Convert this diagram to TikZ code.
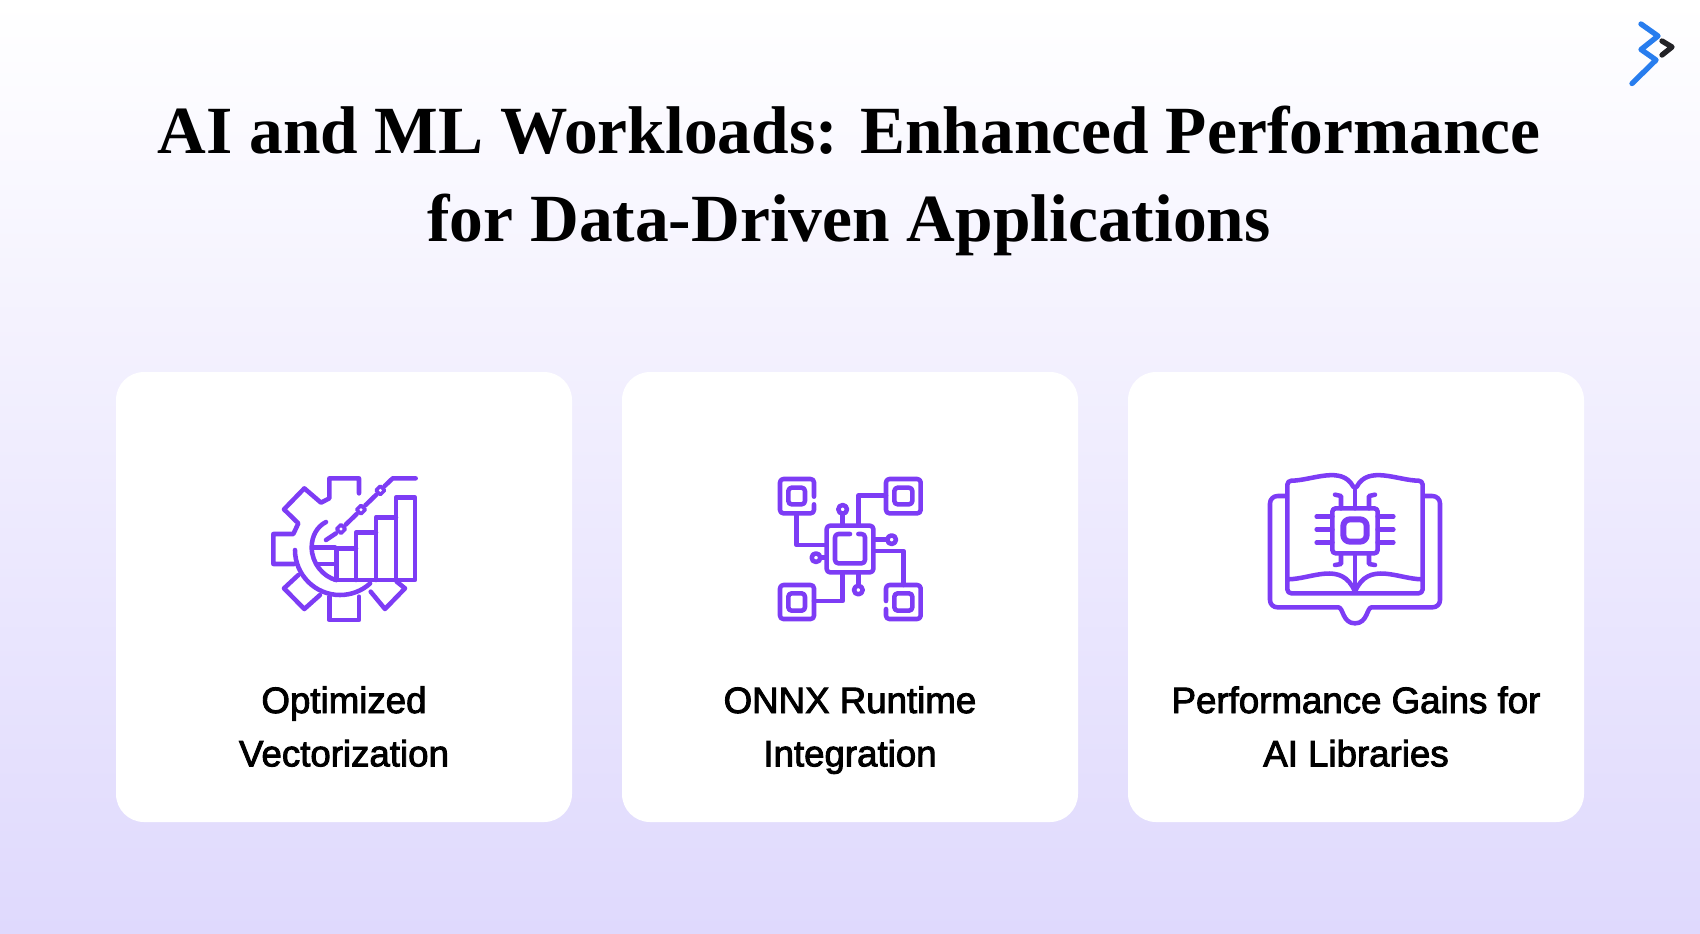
\documentclass[tikz,border=0pt]{standalone}
\usepackage{fontspec}
\setmainfont{Liberation Serif}
\newfontfamily\cardfont[FakeBold=2.5]{Liberation Sans}
\usetikzlibrary{calc,positioning}

\definecolor{bgbottom}{RGB}{223,217,253}
\definecolor{iconpurple}{RGB}{125,60,245}
\definecolor{logoblue}{RGB}{40,125,238}
\definecolor{logodark}{RGB}{34,34,38}

\tikzset{
	card/.style={fill=white,rounded corners=21pt,minimum width=342pt,minimum height=337.5pt,inner sep=0pt},
	cardlabel/.style={font=\cardfont\fontsize{27.5}{40}\selectfont,align=center,text=black,inner sep=0pt},
	icon/.style={draw=iconpurple,line width=3.4pt,line join=round,line cap=round},
	iconthin/.style={icon,rounded corners=2.5pt},
	icondot/.style={icon,line width=2.6pt},
	logoline/.style={line width=4pt,line cap=round,line join=round},
}

\begin{document}
\begin{tikzpicture}[x=0.75pt,y=0.75pt,yscale=-1,xscale=1]
	% background
	\fill [top color=white,bottom color=bgbottom] (0,0) rectangle (1700,933);
	\useasboundingbox (0,0) rectangle (1700,933);

	% Logo
	\draw [logoline,draw=logoblue] (1641,24) -- (1658,36) -- (1641,49.5) -- (1656,60) -- (1632,83.5);
	\draw [logoline,draw=logodark] (1662,41) -- (1672,47) -- (1662,55);

	% Text Node
	\node (title) at (849,181) [font=\bfseries\fontsize{50.6}{66}\selectfont,align=center,text=black,inner sep=0pt]
		{AI and ML Workloads: Enhanced Performance\\for Data-Driven Applications};

	% Cards
	\node (cardA) at (344,597) [card] {};
	\node (cardB) at (850,597) [card] {};
	\node (cardC) at (1356,597) [card] {};

	% Text Node
	\node (labelA) at (344,729) [cardlabel] {\strut Optimized\\Vectorization\strut};
	\node (labelB) at (850,729) [cardlabel] {\strut ONNX Runtime\\Integration\strut};
	\node (labelC) at (1356,729) [cardlabel] {\strut Performance Gains for\\AI Libraries\strut};

	% Icon: gear and bars
	\begin{scope}[shift={(250,460)},x=0.25pt,y=0.25pt]
		\draw [icon] (327,100) -- (327,55) -- (238,55) -- (238,115) -- (213,128) -- (163,85) -- (102,148) -- (145,190) -- (130,222) -- (70,222) -- (70,312) -- (133,312);
		\draw [icon] (135,270) arc (180:48:135);
		\draw [icon] (145,345) -- (102,385) -- (163,447) -- (210,405);
		\draw [icon] (238,410) -- (238,480) -- (327,480) -- (327,410);
		\draw [icon] (362,395) -- (405,447) -- (465,385) -- (440,365);
		% inner arc
		\draw [icon] (228,186) .. controls (200,200) and (185,230) .. (185,262) .. controls (185,310) and (220,350) .. (258,360);
		\draw [icon] (190,262) -- (255,262);
		\draw [icon] (205,312) -- (255,312);
		% bars
		\draw [icon] (255,360) -- (495,360) -- (495,113) -- (438,113) -- (438,360);
		\draw [icon] (378,360) -- (378,172) -- (438,172);
		\draw [icon] (318,360) -- (318,218) -- (378,218);
		\draw [icon] (260,360) -- (260,265) -- (318,265);
		% trend line
		\draw [icon] (228,240) -- (258,220);
		\draw [icon] (287,194) -- (320,162);
		\draw [icon] (346,136) -- (379,104);
		\draw [icon] (404,78) -- (428,55) -- (497,55);
		\draw [icondot] (273,194) -- (286,207) -- (273,220) -- (260,207) -- cycle;
		\draw [icondot] (333,136) -- (346,149) -- (333,162) -- (320,149) -- cycle;
		\draw [icondot] (391,78) -- (404,91) -- (391,104) -- (378,91) -- cycle;
	\end{scope}

	% Icon: chips and traces
	\begin{scope}[shift={(760,465)},x=0.25pt,y=0.25pt]
		% corner chips
		\draw [iconthin] (162,95) -- (162,42) -- (60,42) -- (60,145) -- (162,145) -- (162,118);
		\draw [iconthin] (85,68) rectangle (135,118);
		\draw [iconthin] (378,42) rectangle (482,145);
		\draw [iconthin] (403,68) rectangle (457,118);
		\draw [iconthin] (60,360) rectangle (162,462);
		\draw [iconthin] (85,385) rectangle (135,437);
		\draw [iconthin] (378,408) -- (378,360) -- (482,360) -- (482,462) -- (378,462) -- (378,432);
		\draw [iconthin] (403,385) rectangle (457,437);
		% centre chip
		\draw [iconthin] (200,182) rectangle (340,322);
		\draw [iconthin] (270,207) -- (225,207) -- (225,295) -- (315,295) -- (315,207) -- (295,207);
		% traces
		\draw [icon] (110,145) -- (110,240) -- (200,240);
		\draw [icon] (378,92) -- (295,92) -- (295,182);
		\draw [icon] (162,408) -- (248,408) -- (248,322);
		\draw [icon] (430,360) -- (430,258) -- (340,258);
		% pins
		\draw [icon] (248,146) -- (248,182);
		\draw [icon] (248,133) circle (13);
		\draw [icon] (340,224) -- (382,224);
		\draw [icon] (395,224) circle (13);
		\draw [icon] (181,278) -- (200,278);
		\draw [icon] (168,278) circle (13);
		\draw [icon] (295,322) -- (295,362);
		\draw [icon] (295,375) circle (13);
	\end{scope}

	% Icon: book with chip
	\begin{scope}[shift={(1255,460)},x=0.25pt,y=0.25pt]
		% back cover
		\draw [icon] (92,108) -- (68,108) .. controls (55,108) and (45,118) .. (45,130) -- (45,420) .. controls (45,433) and (55,442) .. (68,442) -- (250,442) .. controls (265,442) and (262,490) .. (300,490) .. controls (338,490) and (335,442) .. (350,442) -- (532,442) .. controls (545,442) and (555,433) .. (555,420) -- (555,130) .. controls (555,118) and (545,108) .. (532,108) -- (508,108);
		% pages
		\draw [icon,rounded corners=3pt] (97,62) .. controls (170,62) and (260,15) .. (300,90) .. controls (340,15) and (430,62) .. (503,62) -- (503,400) -- (97,400) -- cycle;
		\draw [icon] (97,358) .. controls (170,358) and (260,300) .. (300,395) .. controls (340,300) and (430,358) .. (503,358);
		\draw [icon] (300,90) -- (300,145);
		\draw [icon] (300,280) -- (300,395);
		% chip
		\draw [iconthin] (232,145) rectangle (368,280);
		\draw [icon,line width=4.5pt,rounded corners=5pt] (265,178) rectangle (335,245);
		\draw [icon] (185,170) -- (232,170);
		\draw [icon] (185,208) -- (232,208);
		\draw [icon] (185,248) -- (232,248);
		\draw [icon] (368,170) -- (415,170);
		\draw [icon] (368,208) -- (415,208);
		\draw [icon] (368,248) -- (415,248);
		\draw [icon] (258,145) -- (258,108) -- (240,104);
		\draw [icon] (342,145) -- (342,108) -- (360,104);
		\draw [icon] (258,280) -- (258,312) -- (240,315);
		\draw [icon] (342,280) -- (342,312) -- (360,315);
	\end{scope}
\end{tikzpicture}
\end{document}
